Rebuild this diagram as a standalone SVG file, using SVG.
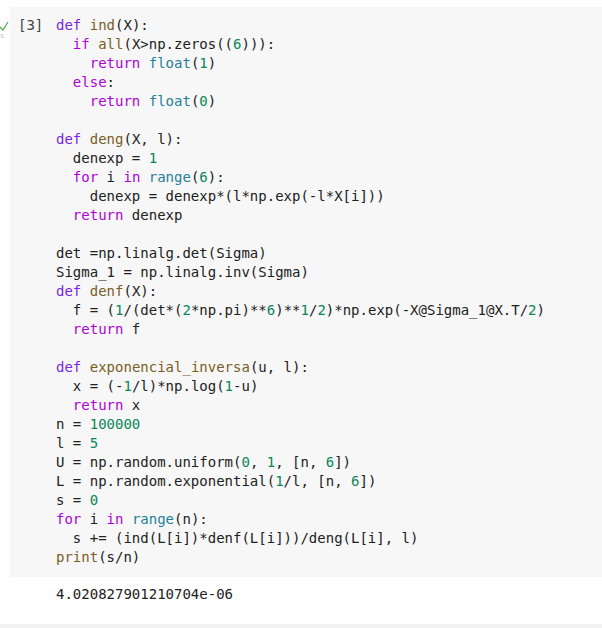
<svg xmlns="http://www.w3.org/2000/svg" width="602" height="628" viewBox="0 0 602 628">
<style>
text{font-family:"DejaVu Sans Mono","Liberation Mono",monospace;font-size:14px;fill:#212121;white-space:pre}
.d{fill:#7a28e0}.k{fill:#af00db}.f{fill:#795e26}.b{fill:#267f99}.n{fill:#098658}
</style>
<rect width="602" height="628" fill="#fff"/>
<rect x="10" y="7" width="592" height="570" fill="#f7f7f7"/>
<rect x="0" y="624" width="602" height="4" fill="#f2f2f2"/>
<path d="M0 27 L3 30 L8 22" stroke="#4caf50" stroke-width="1.3" fill="none"/>
<text x="0" y="38" style="font-size:7px;fill:#bbb">s</text>
<g id="code" xml:space="preserve">
<text x="18" y="30" style="fill:#424242">[3]</text>
<text x="56" y="30"><tspan class="d">def</tspan> <tspan class="f">ind</tspan>(X):</text>
<text x="56" y="49">  <tspan class="k">if</tspan> <tspan class="f">all</tspan>(X&gt;np.zeros((<tspan class="n">6</tspan>))):</text>
<text x="56" y="68">    <tspan class="k">return</tspan> <tspan class="b">float</tspan>(<tspan class="n">1</tspan>)</text>
<text x="56" y="87">  <tspan class="k">else</tspan>:</text>
<text x="56" y="106">    <tspan class="k">return</tspan> <tspan class="b">float</tspan>(<tspan class="n">0</tspan>)</text>
<text x="56" y="144"><tspan class="d">def</tspan> <tspan class="f">deng</tspan>(X, l):</text>
<text x="56" y="163">  denexp = <tspan class="n">1</tspan></text>
<text x="56" y="182">  <tspan class="k">for</tspan> i <tspan class="k">in</tspan> <tspan class="b">range</tspan>(<tspan class="n">6</tspan>):</text>
<text x="56" y="201">    denexp = denexp*(l*np.exp(-l*X[i]))</text>
<text x="56" y="220">  <tspan class="k">return</tspan> denexp</text>
<text x="56" y="258">det =np.linalg.det(Sigma)</text>
<text x="56" y="277">Sigma_1 = np.linalg.inv(Sigma)</text>
<text x="56" y="296"><tspan class="d">def</tspan> <tspan class="f">denf</tspan>(X):</text>
<text x="56" y="315">  f = (<tspan class="n">1</tspan>/(det*(<tspan class="n">2</tspan>*np.pi)**<tspan class="n">6</tspan>)**<tspan class="n">1</tspan>/<tspan class="n">2</tspan>)*np.exp(-X@Sigma_1@X.T/<tspan class="n">2</tspan>)</text>
<text x="56" y="334">  <tspan class="k">return</tspan> f</text>
<text x="56" y="372"><tspan class="d">def</tspan> <tspan class="f">exponencial_inversa</tspan>(u, l):</text>
<text x="56" y="391">  x = (-<tspan class="n">1</tspan>/l)*np.log(<tspan class="n">1</tspan>-u)</text>
<text x="56" y="410">  <tspan class="k">return</tspan> x</text>
<text x="56" y="429">n = <tspan class="n">100000</tspan></text>
<text x="56" y="448">l = <tspan class="n">5</tspan></text>
<text x="56" y="467">U = np.random.uniform(<tspan class="n">0</tspan>, <tspan class="n">1</tspan>, [n, <tspan class="n">6</tspan>])</text>
<text x="56" y="486">L = np.random.exponential(<tspan class="n">1</tspan>/l, [n, <tspan class="n">6</tspan>])</text>
<text x="56" y="505">s = <tspan class="n">0</tspan></text>
<text x="56" y="524"><tspan class="k">for</tspan> i <tspan class="k">in</tspan> <tspan class="b">range</tspan>(n):</text>
<text x="56" y="543">  s += (ind(L[i])*denf(L[i]))/deng(L[i], l)</text>
<text x="56" y="562"><tspan class="f">print</tspan>(s/n)</text>
<text x="56" y="599">4.020827901210704e-06</text>
</g>
</svg>
